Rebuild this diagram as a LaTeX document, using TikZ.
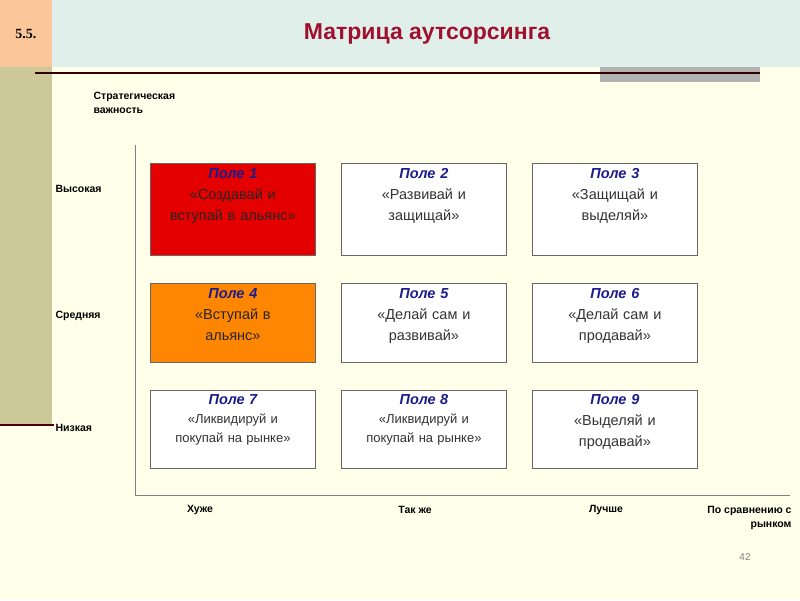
\documentclass[tikz,border=0pt]{standalone}
\usepackage{fontspec}
\setmainfont{Liberation Sans}
\newfontfamily\serifnum{Liberation Serif}
\definecolor{bg}{HTML}{FFFFEA}
\definecolor{band}{HTML}{E0EFEA}
\definecolor{peach}{HTML}{FBC79A}
\definecolor{khaki}{HTML}{CDC89A}
\definecolor{ttl}{HTML}{A0102E}
\definecolor{blu}{HTML}{1C1C8C}
\definecolor{txt}{HTML}{333333}
\begin{document}
\begin{tikzpicture}[x=1pt,y=-1pt,
  cell/.style={draw=gray!80!black,line width=0.8pt,minimum width=165pt,anchor=north west,inner sep=0pt},
  ctext/.style={anchor=north,align=center,text width=160pt,inner sep=0pt},
  lbl/.style={font=\bfseries\fontsize{10.5}{12}\selectfont,anchor=west}]
\fill[bg] (0,0) rectangle (800,600);
\useasboundingbox (0,0) rectangle (800,600);
\fill[band] (52,0) rectangle (800,67);
\fill[peach] (0,0) rectangle (52,67);
\fill[khaki] (0,67) rectangle (52,425);
\fill[gray!60] (600,67) rectangle (760,82);
\draw[line width=1.2pt,black!80!red] (35,73) -- (760,73);
\draw[line width=1.5pt,black!70!red] (0,425) -- (54,425);
\node (num) at (26,34) {\serifnum\bfseries\fontsize{14}{16}\selectfont 5.5.};
\node[text=ttl,font=\bfseries\fontsize{23}{27}\selectfont] (title) at (427,34) {Матрица аутсорсинга};
\node[font=\bfseries\fontsize{10.5}{14}\selectfont,align=left,anchor=north west] (yl) at (90,89) {Стратегическая\\важность};
\coordinate (o) at (135,495);
\coordinate (ytop) at (135,145);
\coordinate (xend) at (790,495);
\draw[gray,line width=1pt] (ytop) -- (o) -- (xend);
\node[lbl] (hi) at (52,189) {Высокая};
\node[lbl] (mid) at (52,316) {Средняя};
\node[lbl] (lo) at (52,428) {Низкая};
\tikzset{xl/.style={font=\bfseries\fontsize{10.5}{14}\selectfont}}
\node[xl] (c1) at (200,510) {Хуже};
\node[xl] (c2) at (415,510) {Так же};
\node[xl] (c3) at (606,510) {Лучше};
\node[xl,align=right,anchor=north east] (c4) at (795,503) {По сравнению с\\рынком};
\node[font=\fontsize{10}{12}\selectfont,text=gray] (pg) at (745,557) {42};
\newcommand\pole[1]{{\color{blu}\bfseries\itshape Поле #1}\\}
\tikzset{big/.style={font=\fontsize{14.5}{21}\selectfont,text=txt},small/.style={font=\fontsize{13}{19}\selectfont,text=txt}}
\node[cell,fill=red!90!black,minimum height=92pt] (p1) at (150,163) {};
\node[cell,fill=white,minimum height=92pt] (p2) at (341,163) {};
\node[cell,fill=white,minimum height=92pt] (p3) at (532,163) {};
\node[cell,fill=orange!95!yellow,minimum height=79pt] (p4) at (150,283) {};
\node[cell,fill=white,minimum height=79pt] (p5) at (341,283) {};
\node[cell,fill=white,minimum height=79pt] (p6) at (532,283) {};
\node[cell,fill=white,minimum height=78pt] (p7) at (150,390) {};
\node[cell,fill=white,minimum height=78pt] (p8) at (341,390) {};
\node[cell,fill=white,minimum height=78pt] (p9) at (532,390) {};
\node[ctext,big,text=black!85] (t1) at ([yshift=-5pt]p1.north) {\pole1«Создавай и\\вступай в альянс»};
\node[ctext,big] (t2) at ([yshift=-5pt]p2.north) {\pole2«Развивай и\\защищай»};
\node[ctext,big] (t3) at ([yshift=-5pt]p3.north) {\pole3«Защищай и\\выделяй»};
\node[ctext,big,text=black!85] (t4) at ([yshift=-5pt]p4.north) {\pole4«Вступай в\\альянс»};
\node[ctext,big] (t5) at ([yshift=-5pt]p5.north) {\pole5«Делай сам и\\развивай»};
\node[ctext,big] (t6) at ([yshift=-5pt]p6.north) {\pole6«Делай сам и\\продавай»};
\node[ctext,small] (t7) at ([yshift=-4pt]p7.north) {{\fontsize{14.5}{20}\selectfont\pole7}«Ликвидируй и\\покупай на рынке»};
\node[ctext,small] (t8) at ([yshift=-4pt]p8.north) {{\fontsize{14.5}{20}\selectfont\pole8}«Ликвидируй и\\покупай на рынке»};
\node[ctext,big] (t9) at ([yshift=-4pt]p9.north) {\pole9«Выделяй и\\продавай»};
\end{tikzpicture}
\end{document}
